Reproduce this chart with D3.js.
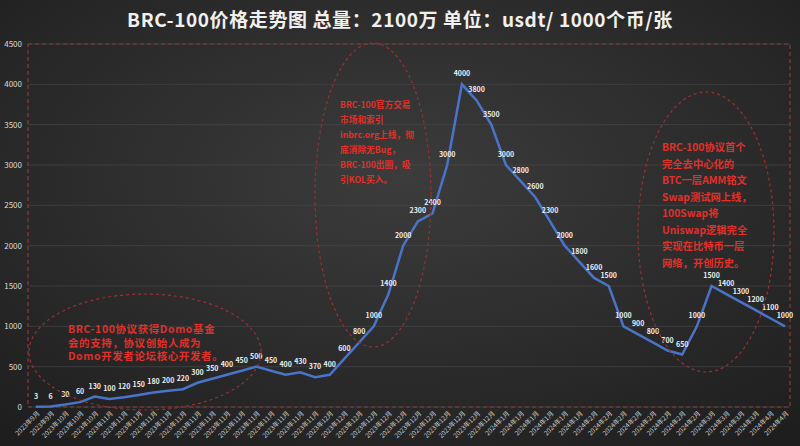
<!DOCTYPE html>
<html><head><meta charset="utf-8">
<script src="https://cdn.jsdelivr.net/npm/d3@7"></script>
<style>body{margin:0;background:#2a2a2a;}svg{display:block;font-family:"Noto Sans CJK SC","Noto Sans",sans-serif;}</style>
</head><body><svg id="c" width="800" height="446"></svg>
<script>
const prices=[3,6,30,60,130,100,120,150,180,200,220,300,350,400,450,500,450,400,430,370,400,600,800,1000,1400,2000,2300,2400,3000,4000,3800,3500,3000,2800,2600,2300,2000,1800,1600,1500,1000,900,800,700,650,1000,1500,1400,1300,1200,1100,1000];
const monthCounts=[["2023年9月",2],["2023年10月",3],["2023年11月",15],["2023年12月",12],["2024年1月",6],["2024年2月",8],["2024年3月",4],["2024年4月",2]];
const dates=[];monthCounts.forEach(([m,n])=>{for(let i=0;i<n;i++)dates.push(m);});
const yTicks=[0,500,1000,1500,2000,2500,3000,3500,4000,4500];
const notes=[
 {lines:["BRC-100协议获得Domo基金","会的支持，协议创始人成为","Domo开发者论坛核心开发者。"],x:68,y:333,lh:13.5,fs:10.5,ls:0.6,e:[145,352,116,58]},
 {lines:["BRC-100官方交易","市场和索引","inbrc.org上线，彻","底消除无Bug，","BRC-100出圈，吸","引KOL买入。"],x:340,y:108,lh:15,fs:8.7,ls:0,e:[373,195,58,152]},
 {lines:["BRC-100协议首个","完全去中心化的","BTC一层AMM铭文","Swap测试网上线，","100Swap将","Uniswap逻辑完全","实现在比特币一层","网络，开创历史。"],x:662,y:151,lh:16.5,fs:10.3,ls:0,e:[706,232,68,140]}
];
const svg=d3.select("#c");
const defs=svg.append("defs");
const g=defs.append("radialGradient").attr("id","bg").attr("cx","50%").attr("cy","40%").attr("r","75%");
g.append("stop").attr("offset","0%").attr("stop-color","#3c3c3c");
g.append("stop").attr("offset","100%").attr("stop-color","#1e1e1e");
svg.append("rect").attr("width",800).attr("height",446).attr("fill","url(#bg)");
const x=d3.scalePoint().domain(d3.range(prices.length)).range([36,785]);
const y=d3.scaleLinear().domain([0,4500]).range([407,44]);
svg.append("g").selectAll("line").data(yTicks).join("line").attr("x1",28).attr("x2",790)
 .attr("y1",d=>y(d)).attr("y2",d=>y(d)).attr("stroke","#4a4a4a").attr("stroke-width",0.6);
svg.append("g").selectAll("text").data(yTicks).join("text").attr("x",22).attr("y",d=>y(d)+3)
 .attr("text-anchor","end").attr("fill","#ddd").attr("font-size",8).text(d=>d);
svg.append("rect").attr("x",28).attr("y",44).attr("width",762).attr("height",363).attr("fill","none")
 .attr("stroke","#8a3a3a").attr("stroke-dasharray","4,3").attr("stroke-width",1.2);
svg.append("path").datum(prices).attr("fill","none").attr("stroke","#4a74c9").attr("stroke-width",2.5)
 .attr("d",d3.line().x((d,i)=>x(i)).y(d=>y(d)));
svg.append("g").selectAll("text").data(prices).join("text").attr("x",(d,i)=>x(i)).attr("y",d=>y(d)-8)
 .attr("text-anchor","middle").attr("fill","#eee").attr("font-size",7).attr("font-weight","bold").text(d=>d);
svg.append("g").selectAll("text").data(dates).join("text")
 .attr("transform",(d,i)=>`translate(${x(i)+4},${414}) rotate(-45)`).attr("text-anchor","end")
 .attr("fill","#ccc").attr("font-size",6.5).text(d=>d);
notes.forEach(n=>{
 svg.append("ellipse").attr("cx",n.e[0]).attr("cy",n.e[1]).attr("rx",n.e[2]).attr("ry",n.e[3])
  .attr("fill","none").attr("stroke","#9a3030").attr("stroke-dasharray","3,3").attr("stroke-width",1.2);
 svg.append("g").selectAll("text").data(n.lines).join("text").attr("x",n.x).attr("y",(d,i)=>n.y+i*n.lh)
  .attr("fill","#e0302a").attr("font-size",n.fs).attr("letter-spacing",n.ls).attr("font-weight","bold").text(d=>d);
});
svg.append("text").attr("x",400).attr("y",27).attr("text-anchor","middle").attr("fill","#f0f0f0")
 .attr("font-size",19).attr("font-weight","bold").attr("letter-spacing",0.6).text("BRC-100价格走势图  总量：2100万 单位：usdt/ 1000个币/张");
</script></body></html>
